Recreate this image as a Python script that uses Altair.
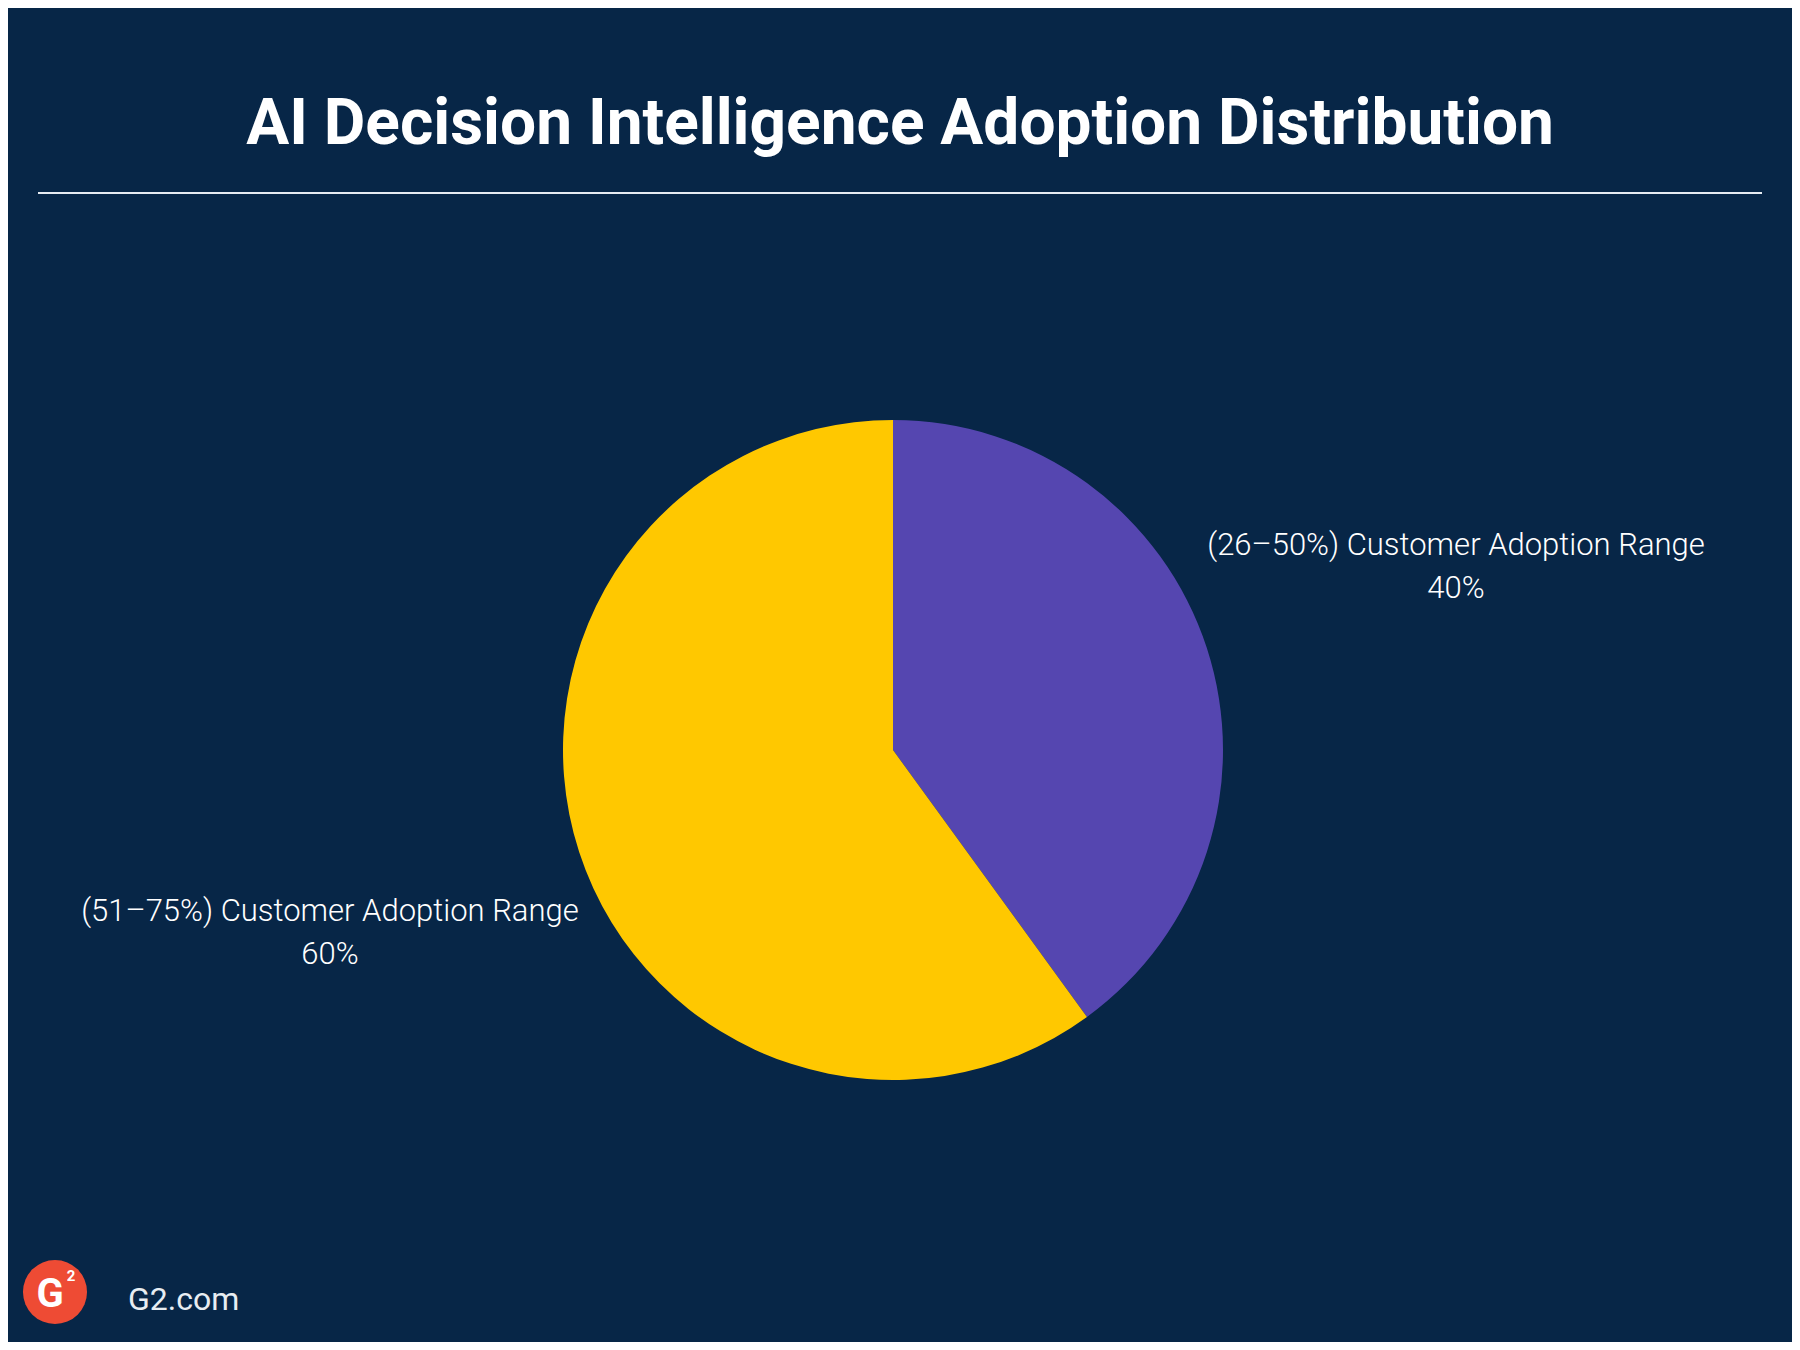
import altair as alt
import pandas as pd

# ---- data ----
categories = ["(26–50%) Customer Adoption Range", "(51–75%) Customer Adoption Range"]
values = [40, 60]
colors = ["#5546B0", "#FFC800"]
order = [1, 2]

title_text = ["AI Decision Intelligence Adoption Distribution"]
brand_text = ["G2.com"]

BG = "#072647"

df = pd.DataFrame({
    "category": categories,
    "value": values,
    "order": order,
    "label": [f"{c}\n{v}%" for c, v in zip(categories, values)],
})

W, H = 1784, 1334
CX, CY, R = 885, 742, 330

color_scale = alt.Scale(domain=categories, range=colors)

pie = alt.Chart(df).mark_arc(outerRadius=R, stroke=None).encode(
    theta=alt.Theta("value:Q", stack=True),
    color=alt.Color("category:N", scale=color_scale, legend=None),
    order=alt.Order("order:Q"),
    x=alt.value(CX),
    y=alt.value(CY),
)

labels = alt.Chart(df).mark_text(
    radius=592, font="Roboto", fontSize=31, fontWeight=300, color="#FFFFFF",
    align="center", baseline="middle", lineBreak="\n", lineHeight=43, dy=-21,
).encode(
    theta=alt.Theta("value:Q", stack=True),
    order=alt.Order("order:Q"),
    text="label:N",
    x=alt.value(CX),
    y=alt.value(CY),
)

title = alt.Chart(pd.DataFrame({"t": title_text})).mark_text(
    font="Roboto", fontSize=64, fontWeight="bold", color="#FFFFFF",
    align="center", baseline="alphabetic",
).encode(text="t:N", x=alt.value(892), y=alt.value(136))

rule = alt.Chart(pd.DataFrame({"t": title_text})).mark_rule(
    color="#E6ECF2", strokeWidth=2
).encode(x=alt.value(30), x2=alt.value(1754), y=alt.value(185))

logo_circle = alt.Chart(pd.DataFrame({"t": brand_text})).mark_point(
    filled=True, shape="circle", size=4100, color="#EE4B34", opacity=1
).encode(x=alt.value(47), y=alt.value(1284))

logo_g = alt.Chart(pd.DataFrame({"t": ["G"]})).mark_text(
    font="Roboto", fontSize=40, fontWeight="bold", color="#FFFFFF",
    align="center", baseline="middle",
).encode(text="t:N", x=alt.value(42), y=alt.value(1287))

logo_2 = alt.Chart(pd.DataFrame({"t": ["2"]})).mark_text(
    font="Roboto", fontSize=15, fontWeight="bold", color="#FFFFFF",
    align="center", baseline="middle",
).encode(text="t:N", x=alt.value(63), y=alt.value(1268))

brand = alt.Chart(pd.DataFrame({"t": brand_text})).mark_text(
    font="Roboto", fontSize=32, fontWeight="normal", color="#E8EDF2",
    align="left", baseline="alphabetic",
).encode(text="t:N", x=alt.value(120), y=alt.value(1302))

chart = alt.layer(pie, labels, title, rule, logo_circle, logo_g, logo_2, brand).properties(
    width=W, height=H, background=BG, padding=0,
).configure_view(stroke=None)

chart.save("out.html", embed_options={"renderer": "svg", "actions": False})
